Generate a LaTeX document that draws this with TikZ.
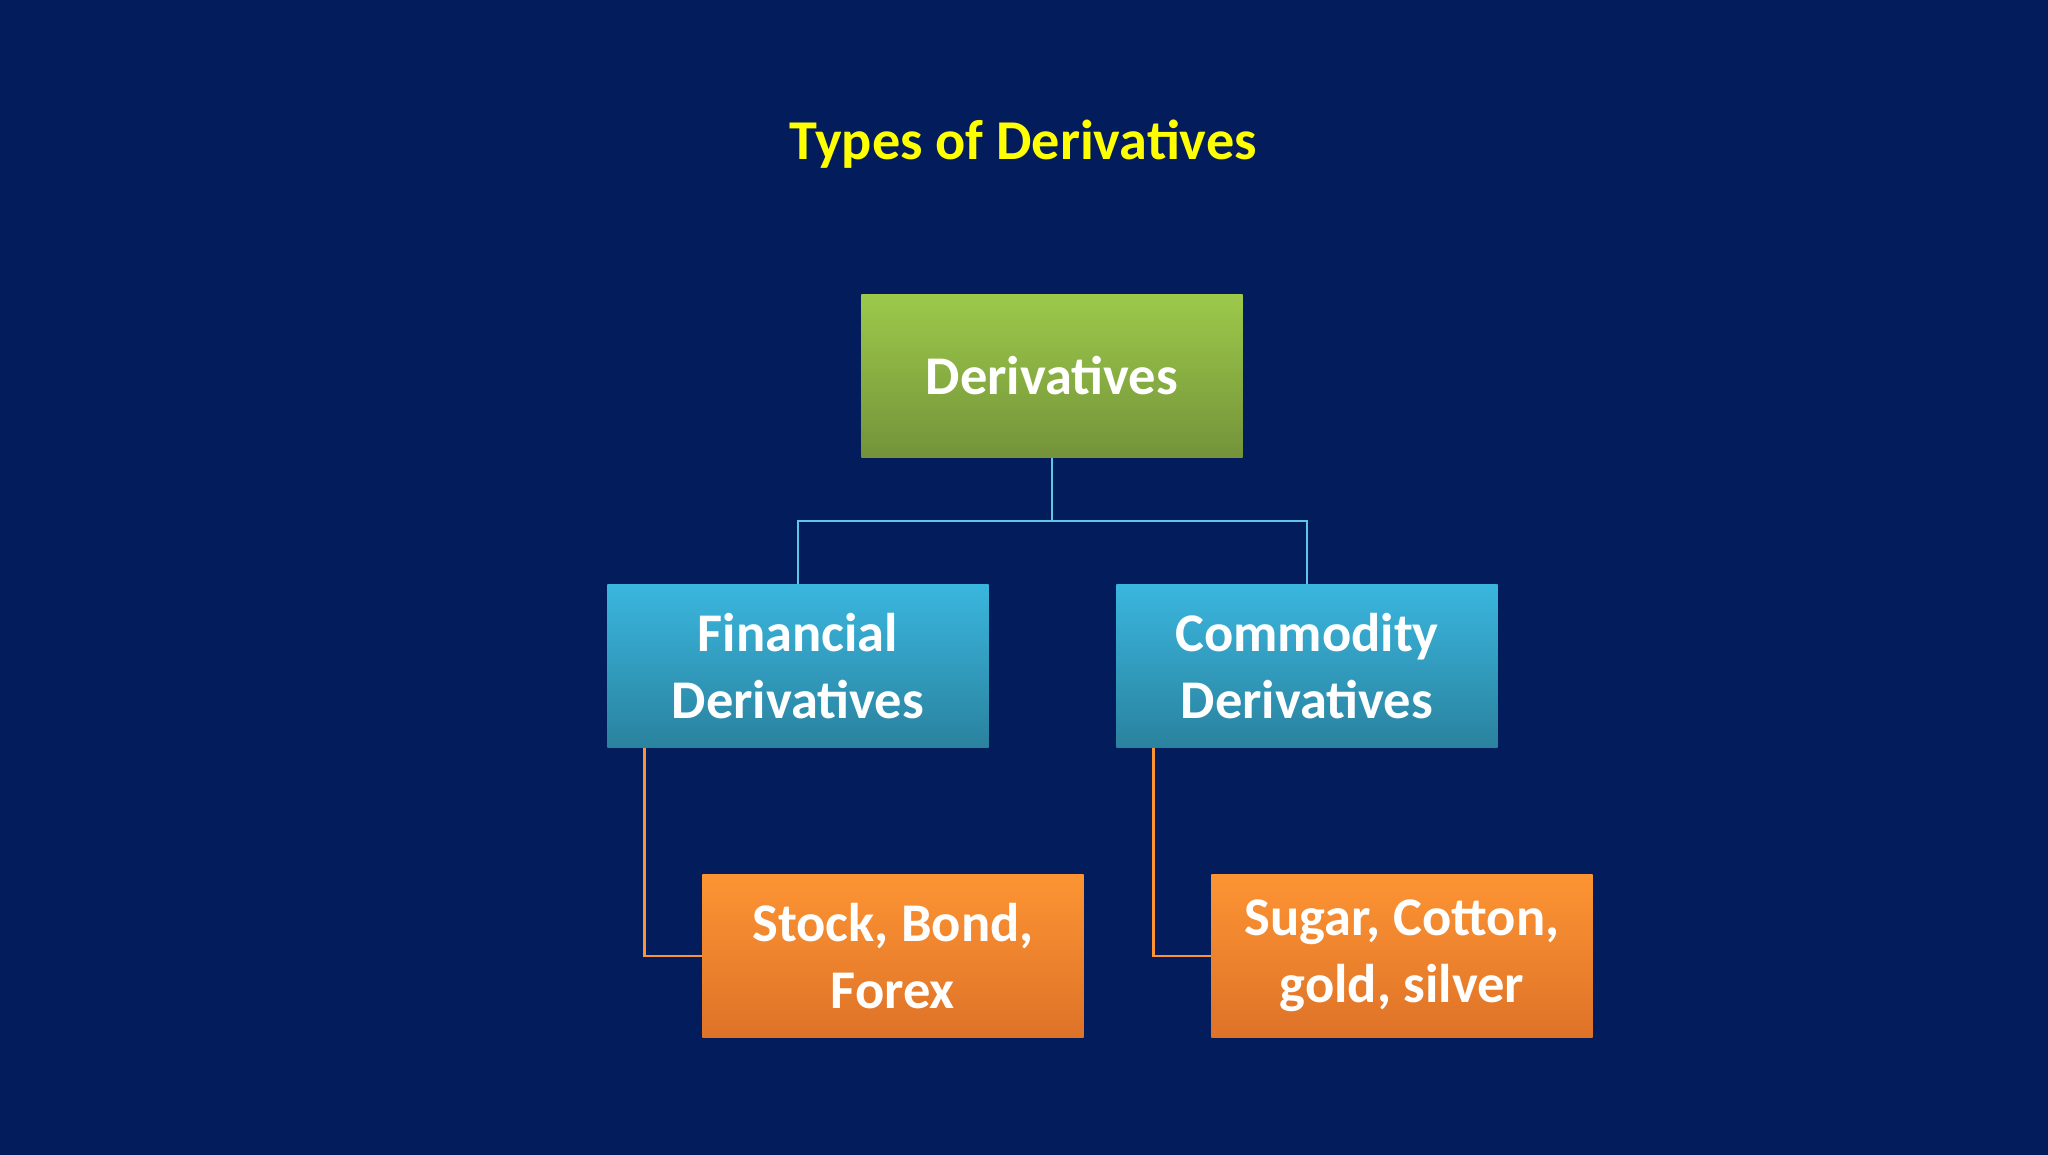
\documentclass[tikz,border=0pt]{standalone}
\usepackage{fontspec}
\setmainfont{Carlito}
\begin{document}
\begin{tikzpicture}[x=0.01cm,y=-0.01cm,
  box/.style={minimum width=3.81cm,minimum height=1.62cm,align=center,text=white,font=\bfseries\fontsize{15.5}{19}\selectfont,inner sep=0pt},
  green/.style={box,top color=green1,bottom color=green2},
  blue/.style={box,top color=blue1,bottom color=blue2},
  orange/.style={box,top color=orange1,bottom color=orange2},
  bline/.style={draw=blue1!80!white,line width=0.8pt},
  oline/.style={draw=orange1,line width=0.8pt}]
\definecolor{bg}{HTML}{031C5C}
\definecolor{green1}{HTML}{9CC94A}
\definecolor{green2}{HTML}{74933A}
\definecolor{blue1}{HTML}{3AB6DE}
\definecolor{blue2}{HTML}{2A829E}
\definecolor{orange1}{HTML}{FD9433}
\definecolor{orange2}{HTML}{DE7228}
\definecolor{ttl}{HTML}{FFFF00}
\fill[bg] (0,0) rectangle (2048,1155);
\useasboundingbox (0,0) rectangle (2048,1155);
\node[text=ttl,font=\bfseries\fontsize{16}{19}\selectfont] (title) at (1023,144) {Types of Derivatives};
\node[green] (d) at (1052,376) {Derivatives};
\node[blue] (f) at (798,666) {Financial\\Derivatives};
\node[blue] (c) at (1307,666) {Commodity\\Derivatives};
\node[orange] (s) at (893,956) {Stock, Bond,\\Forex};
\node[orange] (g) at (1402,956) {Sugar, Cotton,\\gold, silver};
\coordinate (j) at (1052,521);
\draw[bline] (d.south) -- (j) -| (f.north);
\draw[bline] (j) -| (c.north);
\draw[oline] (f.south west) ++(38,0) |- (s.west);
\draw[oline] (c.south west) ++(38,0) |- (g.west);
\end{tikzpicture}
\end{document}
